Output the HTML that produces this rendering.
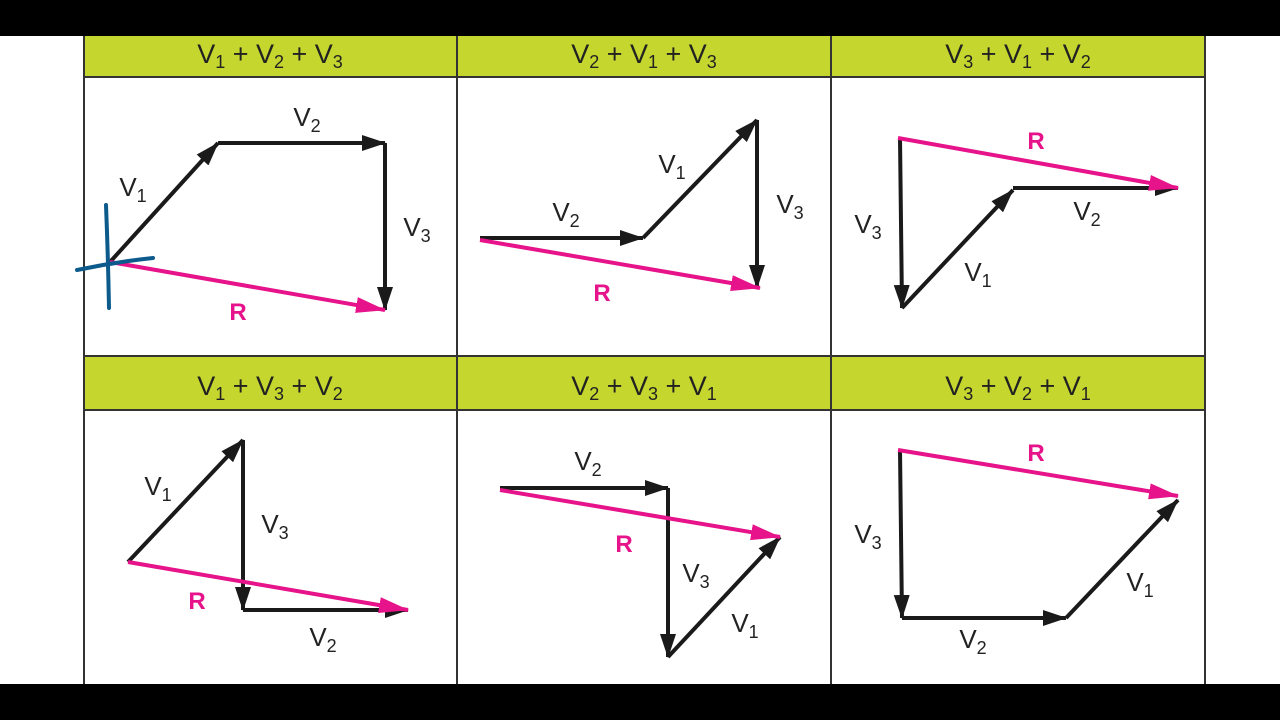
<!DOCTYPE html>
<html><head><meta charset="utf-8"><style>
html,body{margin:0;padding:0;background:#fff;}
svg{display:block;}
text{font-family:"Liberation Sans",sans-serif;}
</style></head><body>
<svg width="1280" height="720" viewBox="0 0 1280 720" xmlns="http://www.w3.org/2000/svg">
<defs>
<marker id="ak" markerWidth="24" markerHeight="16" refX="23" refY="8" orient="auto" markerUnits="userSpaceOnUse"><path d="M0,0 L24,8 L0,16 Z" fill="#1a1a1a"/></marker>
<marker id="ap" markerWidth="30" markerHeight="16" refX="29" refY="8" orient="auto" markerUnits="userSpaceOnUse"><path d="M0,0 L30,8 L0,16 Z" fill="#e6138a"/></marker>
</defs>
<rect x="0" y="0" width="1280" height="720" fill="#fff"/>
<rect x="83" y="36" width="1122" height="41" fill="#c5d72e"/>
<rect x="83" y="357" width="1122" height="53" fill="#c5d72e"/>
<g stroke="#333" stroke-width="2" fill="none">
<line x1="83" y1="77" x2="1205" y2="77"/>
<line x1="83" y1="356" x2="1205" y2="356"/>
<line x1="83" y1="410" x2="1205" y2="410"/>
<line x1="84" y1="36" x2="84" y2="684"/>
<line x1="457" y1="36" x2="457" y2="684"/>
<line x1="831" y1="36" x2="831" y2="684"/>
<line x1="1205" y1="36" x2="1205" y2="684"/>
</g>
<g font-size="27" fill="#222" text-anchor="middle">
<text x="270" y="63">V<tspan font-size="18" dy="5">1</tspan><tspan dy="-5"> + V</tspan><tspan font-size="18" dy="5">2</tspan><tspan dy="-5"> + V</tspan><tspan font-size="18" dy="5">3</tspan></text>
<text x="644" y="63">V<tspan font-size="18" dy="5">2</tspan><tspan dy="-5"> + V</tspan><tspan font-size="18" dy="5">1</tspan><tspan dy="-5"> + V</tspan><tspan font-size="18" dy="5">3</tspan></text>
<text x="1018" y="63">V<tspan font-size="18" dy="5">3</tspan><tspan dy="-5"> + V</tspan><tspan font-size="18" dy="5">1</tspan><tspan dy="-5"> + V</tspan><tspan font-size="18" dy="5">2</tspan></text>
<text x="270" y="395">V<tspan font-size="18" dy="5">1</tspan><tspan dy="-5"> + V</tspan><tspan font-size="18" dy="5">3</tspan><tspan dy="-5"> + V</tspan><tspan font-size="18" dy="5">2</tspan></text>
<text x="644" y="395">V<tspan font-size="18" dy="5">2</tspan><tspan dy="-5"> + V</tspan><tspan font-size="18" dy="5">3</tspan><tspan dy="-5"> + V</tspan><tspan font-size="18" dy="5">1</tspan></text>
<text x="1018" y="395">V<tspan font-size="18" dy="5">3</tspan><tspan dy="-5"> + V</tspan><tspan font-size="18" dy="5">2</tspan><tspan dy="-5"> + V</tspan><tspan font-size="18" dy="5">1</tspan></text>
</g>
<g stroke="#1a1a1a" stroke-width="4" marker-end="url(#ak)">
<line x1="110" y1="262" x2="218" y2="143"/><line x1="218" y1="143" x2="385" y2="143"/><line x1="385" y1="143" x2="385" y2="310"/>
<line x1="480" y1="238" x2="643" y2="238"/><line x1="643" y1="238" x2="757" y2="120"/><line x1="757" y1="120" x2="757" y2="288"/>
<line x1="900" y1="138" x2="902" y2="308"/><line x1="902" y1="308" x2="1013" y2="190"/><line x1="1013" y1="188" x2="1178" y2="188"/>
<line x1="128" y1="562" x2="243" y2="440"/><line x1="243" y1="440" x2="243" y2="610"/><line x1="243" y1="610" x2="408" y2="610"/>
<line x1="500" y1="488" x2="668" y2="488"/><line x1="668" y1="488" x2="668" y2="657"/><line x1="668" y1="657" x2="780" y2="537"/>
<line x1="900" y1="450" x2="902" y2="618"/><line x1="902" y1="618" x2="1066" y2="618"/><line x1="1066" y1="618" x2="1178" y2="500"/>
</g>
<g stroke="#e6138a" stroke-width="4" marker-end="url(#ap)">
<line x1="110" y1="262" x2="385" y2="310"/>
<line x1="480" y1="240" x2="760" y2="288"/>
<line x1="898" y1="138" x2="1178" y2="188"/>
<line x1="128" y1="562" x2="408" y2="610"/>
<line x1="500" y1="490" x2="780" y2="537"/>
<line x1="898" y1="450" x2="1178" y2="496"/>
</g>
<g stroke="#0d5a8c" stroke-width="4" stroke-linecap="round" fill="none">
<path d="M106,205 Q108,255 109,308"/><path d="M77,270 Q115,262 153,258"/>
</g>
<g font-size="26" fill="#222" text-anchor="middle">
<text x="133" y="196">V<tspan font-size="18" dy="6">1</tspan></text>
<text x="307" y="126">V<tspan font-size="18" dy="6">2</tspan></text>
<text x="417" y="236">V<tspan font-size="18" dy="6">3</tspan></text>
<text x="566" y="221">V<tspan font-size="18" dy="6">2</tspan></text>
<text x="672" y="173">V<tspan font-size="18" dy="6">1</tspan></text>
<text x="790" y="213">V<tspan font-size="18" dy="6">3</tspan></text>
<text x="868" y="233">V<tspan font-size="18" dy="6">3</tspan></text>
<text x="978" y="281">V<tspan font-size="18" dy="6">1</tspan></text>
<text x="1087" y="220">V<tspan font-size="18" dy="6">2</tspan></text>
<text x="158" y="495">V<tspan font-size="18" dy="6">1</tspan></text>
<text x="275" y="533">V<tspan font-size="18" dy="6">3</tspan></text>
<text x="323" y="646">V<tspan font-size="18" dy="6">2</tspan></text>
<text x="588" y="470">V<tspan font-size="18" dy="6">2</tspan></text>
<text x="696" y="582">V<tspan font-size="18" dy="6">3</tspan></text>
<text x="745" y="632">V<tspan font-size="18" dy="6">1</tspan></text>
<text x="868" y="543">V<tspan font-size="18" dy="6">3</tspan></text>
<text x="973" y="648">V<tspan font-size="18" dy="6">2</tspan></text>
<text x="1140" y="591">V<tspan font-size="18" dy="6">1</tspan></text>
</g>
<g font-size="24" font-weight="bold" fill="#e6138a" text-anchor="middle">
<text x="238" y="320">R</text><text x="602" y="301">R</text><text x="1036" y="149">R</text>
<text x="197" y="609">R</text><text x="624" y="552">R</text><text x="1036" y="461">R</text>
</g>
<rect x="0" y="0" width="1280" height="36" fill="#000"/>
<rect x="0" y="684" width="1280" height="36" fill="#000"/>
</svg>
</body></html>
